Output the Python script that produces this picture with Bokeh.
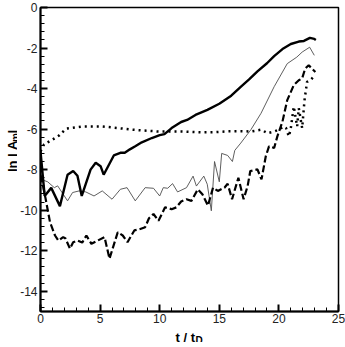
import math
from bokeh.plotting import figure
from bokeh.models import Range1d, SingleIntervalTicker, Label
from bokeh.layouts import row, column
from bokeh.embed import file_html
from bokeh.resources import INLINE

# ---- data ----
t_thick = [0, 0.35, 0.9, 1.63, 2.27, 2.74, 3.1, 3.46, 4.2, 4.63, 5.04, 5.3, 6.15, 6.7, 7.07, 7.5,
           7.95, 8.5, 9.34, 10.0, 10.4, 11.0, 11.8, 12.3, 13.0, 14.0, 15.0, 16.0, 16.82, 17.5,
           18.2, 19.0, 19.6, 20.3, 21.0, 21.67, 22.1, 22.6, 22.97, 23.1]
y_thick = [-7.1, -9.3, -8.9, -9.8, -8.25, -8.07, -8.3, -9.3, -8.0, -7.66, -7.83, -8.25, -7.3, -7.17,
           -7.17, -7.0, -6.85, -6.65, -6.44, -6.3, -6.25, -5.95, -5.65, -5.55, -5.3, -5.05, -4.75,
           -4.35, -3.9, -3.55, -3.15, -2.75, -2.4, -2.05, -1.8, -1.68, -1.65, -1.5, -1.55, -1.6]

t_thin = [0, 0.14, 0.6, 1.16, 1.44, 2.27, 2.69, 3.24, 3.8, 4.49, 5.18, 6.0, 6.7, 7.26, 7.95, 8.78,
          9.48, 10.0, 10.3, 10.67, 11.08, 11.5, 12.25, 12.8, 13.08, 13.7, 13.99, 14.33, 14.6,
          15.0, 15.2, 15.7, 16.1, 16.3, 16.8, 17.65, 18.5, 19.6, 20.7, 21.5, 21.95, 22.58, 22.97]
y_thin = [-8.2, -8.5, -8.6, -8.89, -8.8, -9.54, -9.13, -9.05, -9.1, -9.3, -9.05, -9.46, -8.97,
          -8.89, -9.54, -8.89, -8.92, -9.3, -8.89, -8.92, -8.69, -9.1, -8.89, -8.32, -8.81, -8.32,
          -8.72, -10.03, -7.6, -8.6, -7.2, -7.3, -7.6, -7.05, -6.69, -6.03, -5.22, -3.91, -2.77,
          -2.45, -2.2, -1.96, -2.36]

t_dash = [0, 0.11, 0.45, 0.8, 1.22, 1.5, 1.9, 2.1, 2.47, 2.74, 3.1, 3.5, 3.85, 4.27, 4.8, 5.37,
          5.79, 6.48, 6.9, 7.3, 7.87, 8.37, 8.78, 9.1, 9.48, 9.9, 10.45, 11.0, 11.4, 11.8, 12.25,
          12.66, 13.2, 13.58, 14.05, 14.47, 14.88, 15.43, 15.7, 16.07, 16.6, 17.04, 17.38, 17.6,
          18.2, 18.54, 18.9, 19.17, 19.6, 19.87, 20.3, 20.7, 21.25, 21.67, 21.95, 22.2, 22.5,
          22.78, 23.06]
y_dash = [-7.3, -8.5, -9.5, -10.6, -11.25, -11.5, -11.33, -11.4, -11.9, -11.58, -11.5, -11.6,
          -11.25, -11.66, -11.5, -11.33, -12.39, -11.09, -11.25, -11.58, -11.0, -10.93, -10.84,
          -10.4, -10.19, -10.52, -9.86, -9.95, -9.86, -9.57, -9.46, -9.54, -8.97, -9.21, -9.78,
          -8.89, -9.05, -8.89, -8.7, -9.46, -8.4, -9.46, -8.8, -8.07, -7.99, -8.48, -7.34, -6.85,
          -6.93, -6.36, -5.63, -4.57, -3.83, -3.59, -3.5, -3.02, -2.85, -3.02, -3.18]

t_dot = [0, 0.3, 1.0, 1.6, 2.13, 3.5, 5.2, 6.5, 7.7, 9.9, 11.8, 13.5, 14.6, 15.7, 16.8, 17.65,
         18.5, 19.04, 19.6, 20.0, 20.4, 20.6, 20.83, 20.98, 21.25, 21.53, 21.67, 21.95, 22.15,
         22.36, 22.64, 22.9, 23.06]
y_dot = [-7.1, -6.75, -6.52, -6.3, -5.98, -5.87, -5.87, -5.95, -6.03, -6.12, -6.12, -6.16, -6.15,
         -6.11, -6.1, -6.12, -6.03, -6.2, -6.12, -6.03, -5.87, -5.95, -6.36, -6.03, -4.89, -5.87,
         -4.97, -5.95, -4.57, -3.67, -3.59, -3.42, -3.5]

x_tick_labels = {0: "0", 5: "5", 10: "10", 15: "15", 20: "20", 25: "25"}
y_tick_labels = {0: "0", -2: "-2", -4: "-4", -6: "-6", -8: "-8", -10: "-10", -12: "-12", -14: "-14"}

FONT = "Liberation Sans"

# ---- main plot ----
p = figure(title=None, width=328, height=327, output_backend="svg", toolbar_location=None,
           x_range=Range1d(0, 25), y_range=Range1d(-15, 0),
           min_border_left=21, min_border_right=7, min_border_top=7, min_border_bottom=16)
p.background_fill_color = "white"
p.border_fill_color = "white"
p.grid.visible = False
p.outline_line_color = "black"
p.outline_line_width = 1.5

for ax in (p.xaxis[0], p.yaxis[0]):
    ax.axis_line_width = 2
    ax.axis_line_color = "black"
    ax.major_tick_in = 7
    ax.major_tick_out = 0
    ax.minor_tick_in = 4
    ax.minor_tick_out = 0
    ax.major_tick_line_width = 2
    ax.minor_tick_line_width = 1
    ax.major_tick_line_color = "black"
    ax.minor_tick_line_color = "black"
    ax.major_label_text_font = FONT
    ax.major_label_text_font_size = "12px"
    ax.major_label_text_color = "#222222"
    ax.axis_label_standoff = 0

p.xaxis.ticker = SingleIntervalTicker(interval=5, num_minor_ticks=5)
p.yaxis.ticker = SingleIntervalTicker(interval=2, num_minor_ticks=5)
p.xaxis.major_label_overrides = x_tick_labels
p.yaxis.major_label_overrides = y_tick_labels
p.xaxis.major_label_standoff = 2
p.yaxis.major_label_standoff = 3

p.line(t_thin, y_thin, line_color="#4d4d4d", line_width=0.9)
p.line(t_dot, y_dot, line_color="black", line_width=2.5, line_dash="2 4")
p.line(t_dash, y_dash, line_color="black", line_width=2.2, line_dash="7 3")
p.line(t_thick, y_thick, line_color="black", line_width=2.4)


def blank(w, h):
    f = figure(title=None, width=w, height=h, output_backend="svg", toolbar_location=None,
               x_range=Range1d(0, w), y_range=Range1d(0, h),
               x_axis_type=None, y_axis_type=None,
               min_border_left=0, min_border_right=0, min_border_top=0, min_border_bottom=0)
    f.outline_line_color = None
    f.background_fill_color = "white"
    f.border_fill_color = "white"
    return f


def lab(f, x, y, text, size, angle=0.0):
    f.add_layout(Label(x=x, y=y, text=text, angle=angle, text_font=FONT,
                       text_font_style="bold", text_font_size=size, text_color="black",
                       text_align="left", text_baseline="alphabetic"))


# y title panel (pixel coordinates, y upward)
yfig = blank(17, 327)
lab(yfig, 12, 150, "ln | A", "13px", math.pi / 2)
lab(yfig, 14.5, 182.3, "m", "10px", math.pi / 2)
lab(yfig, 12, 191.5, " |", "13px", math.pi / 2)

# x title panel
xfig = blank(345, 15)
lab(xfig, 175, 5, "t / t", "13px")
lab(xfig, 195, 2, "D", "10px")

layout = column(row(yfig, p), xfig)
open("out.html", "w").write(file_html(layout, INLINE))
